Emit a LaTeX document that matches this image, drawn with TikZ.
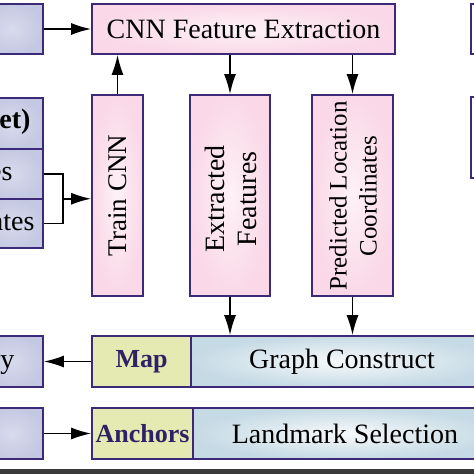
\documentclass[tikz,border=0pt]{standalone}
\usepackage{fontspec}
\setmainfont{Liberation Serif}
\usetikzlibrary{arrows.meta, calc}

\definecolor{frame}{HTML}{3C2A78}
\definecolor{lilac}{HTML}{C4C8E2}
\definecolor{rose}{HTML}{FAD8E7}
\definecolor{olive}{HTML}{E5E9B2}
\definecolor{ice}{HTML}{C6DAE5}
\definecolor{ink}{HTML}{2E2266}
\definecolor{bar}{HTML}{3A3A3A}

\begin{document}
\begin{tikzpicture}[x=1pt, y=-1pt,
    box/.style = {draw=frame, line width=1.8pt, inner sep=0pt},
    blue box/.style = {box, shade, outer color=lilac, inner color=lilac!65},
    pink box/.style = {box, shade, outer color=rose, inner color=rose!35},
    key box/.style = {box, fill=olive, text=ink, font=\fontsize{26}{28}\selectfont\bfseries},
    ice box/.style = {box, shade, outer color=ice, inner color=ice!15, font=\fontsize{28}{30}\selectfont},
    arr/.style = {line width=1.5pt, -{Latex[length=20pt, width=12pt]}}
]

    % Frame
    \useasboundingbox (0,0) rectangle (474,474);
    \clip (0,0) rectangle (474,474);

    % Top row
    \node [blue box, minimum width=63pt, minimum height=50pt] (data) at (11.5,29) {};
    \node [pink box, minimum width=303pt, minimum height=50pt, font=\fontsize{28}{30}\selectfont] (cnn) at (243.5,29) {CNN Feature Extraction};
    \node [box, minimum width=60pt, minimum height=50pt] (side1) at (501,29) {};
    \node [box, minimum width=60pt, minimum height=81pt] (side2) at (501,137.5) {};

    % Data set
    \node [blue box, minimum width=63pt, minimum height=51pt] (set) at (11.5,123.5) {};
    \node [blue box, minimum width=63pt, minimum height=50pt] (img) at (11.5,174) {};
    \node [blue box, minimum width=63pt, minimum height=49pt] (coord) at (11.5,223.5) {};
    \node [anchor=base east, font=\fontsize{28}{30}\selectfont\bfseries] (setlbl) at (34,128) {set)};
    \node [anchor=base east, font=\fontsize{28}{30}\selectfont] (imglbl) at (16,180) {es};
    \node [anchor=base east, font=\fontsize{28}{30}\selectfont] (coordlbl) at (38,230) {ates};

    % Network boxes
    \node [pink box, minimum width=51pt, minimum height=201pt] (train) at (117.5,195.5) {};
    \node [pink box, minimum width=80pt, minimum height=201pt] (feat) at (230,195.5) {};
    \node [pink box, minimum width=81pt, minimum height=201pt] (pred) at (352.5,195.5) {};
    \node [rotate=90, font=\fontsize{27}{30}\selectfont] (traintxt) at (117.5,195.5) {Train CNN};
    \node [rotate=90, align=center, font=\fontsize{28}{32}\selectfont] (feattxt) at (231,199) {Extracted\\Features};
    \node [rotate=90, align=center, font=\fontsize{25}{30}\selectfont] (predtxt) at (353,196) {Predicted Location\\Coordinates};

    % Map row
    \node [blue box, minimum width=63pt, minimum height=51pt] (store) at (11.5,361.5) {};
    \node [anchor=base east, font=\fontsize{28}{30}\selectfont] (storelbl) at (18,368) {ry};
    \node [key box, minimum width=99pt, minimum height=51pt] (map) at (141.5,361.5) {Map};
    \node [ice box, minimum width=302pt, minimum height=51pt] (graph) at (342,361.5) {Graph Construct};

    % Anchor row
    \node [blue box, minimum width=63pt, minimum height=51pt] (pick) at (11.5,433.5) {};
    \node [key box, minimum width=101pt, minimum height=51pt] (anchors) at (142.5,433.5) {Anchors};
    \node [ice box, minimum width=304pt, minimum height=51pt] (land) at (345,433.5) {Landmark Selection};

    % Arrows
    \draw [arr] (data) -- (cnn);
    \draw [arr] (train.north) -- (train.north |- cnn.south);
    \draw [arr] (cnn.south -| feat.north) -- (feat.north);
    \draw [arr] (cnn.south -| pred.north) -- (pred.north);
    \draw [line width=1.5pt] (img.east) -- ++(19,0) |- (coord.east);
    \coordinate (join) at ($(img.east)!0.5!(coord.east) + (19,0)$);
    \draw [arr] (join) -- (join -| train.west);
    \draw [arr] (feat.south) -- (feat.south |- graph.north);
    \draw [arr] (pred.south) -- (pred.south |- graph.north);
    \draw [arr] (map) -- (store);
    \draw [arr] (pick) -- (anchors);

    % Bottom edge
    \fill [bar] (0,469) rectangle (474,474);

\end{tikzpicture}
\end{document}
